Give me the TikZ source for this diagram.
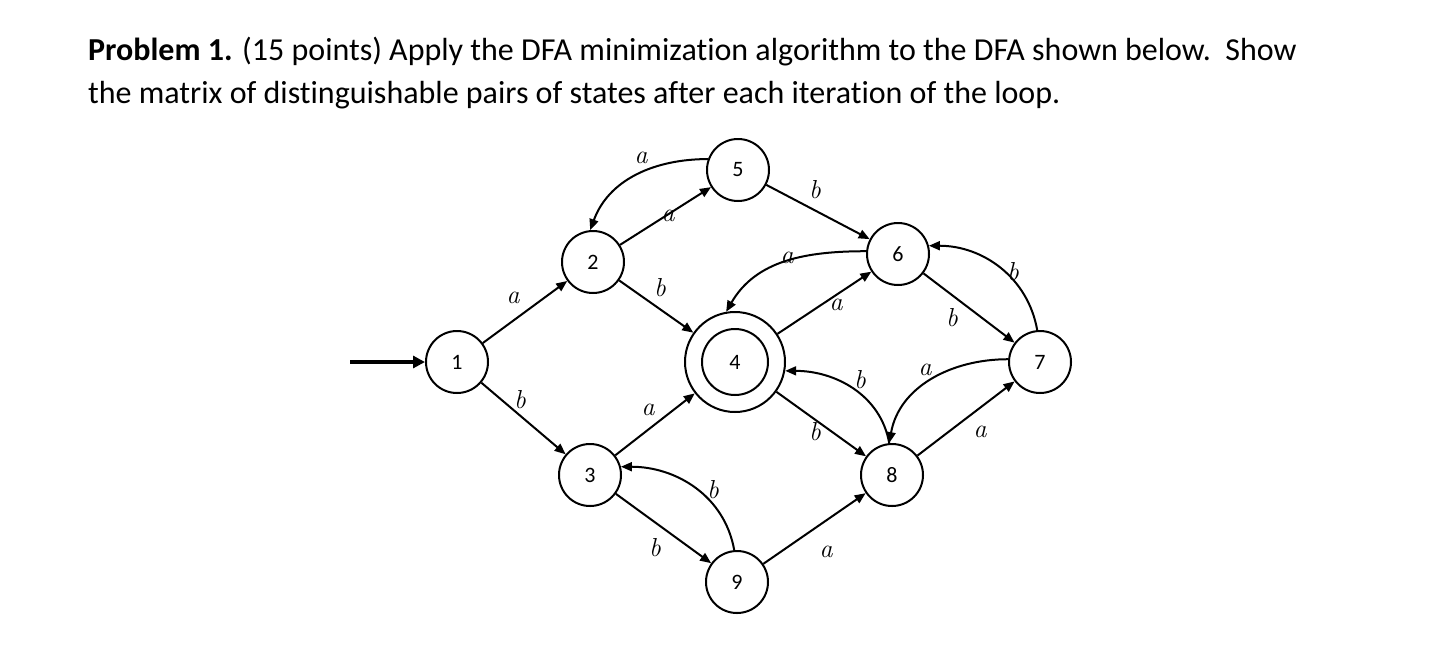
\documentclass[tikz,border=0pt]{standalone}
\usepackage{fontspec}
\setsansfont[Ligatures=NoCommon]{Carlito}
\usetikzlibrary{arrows.meta}
\begin{document}
\begin{tikzpicture}[x=1pt,y=-1pt,
 st/.style={circle,draw,line width=2pt,minimum size=62pt,inner sep=0pt,font=\sffamily\fontsize{22}{22}\selectfont},
 ed/.style={line width=2pt,-{Triangle[length=11pt,width=9pt]}},
 lb/.style={font=\itshape\fontsize{26}{26}\selectfont}]
\useasboundingbox (0,0) rectangle (1451,649);
\node[anchor=base west,inner sep=0pt,font=\sffamily\fontsize{32}{32}\selectfont] (t1) at (88,60) {\textbf{Problem 1.} (15 points) Apply the DFA minimization algorithm to the DFA shown below.\ \ Show};
\node[anchor=base west,inner sep=0pt,font=\sffamily\fontsize{32}{32}\selectfont] (t2) at (88,103) {the matrix of distinguishable pairs of states after each iteration of the loop.};
\node[st] (n1) at (457,362) {1};
\node[st] (n2) at (593,262) {2};
\node[st] (n3) at (590,475) {3};
\node[st,minimum size=100pt] (n4o) at (735,362) {};
\node[st,minimum size=66pt] (n4) at (735,362) {4};
\node[st] (n5) at (738,170) {5};
\node[st] (n6) at (898,254) {6};
\node[st] (n7) at (1040,362) {7};
\node[st] (n8) at (892,475) {8};
\node[st] (n9) at (737,582) {9};
\coordinate (s) at (350,362);
\draw[line width=4.5pt,-{Triangle[length=12pt,width=12pt]}] (s) -- (n1);
\draw[ed] (n1) -- (n2);
\draw[ed] (n1) -- (n3);
\draw[ed] (n2) -- (n5);
\draw[ed] (n5.160) to[out=180,in=70] (n2.95);
\draw[ed] (n2) -- (n4o);
\draw[ed] (n3) -- (n4o);
\draw[ed] (n3) -- (n9);
\draw[ed] (n9.95) to[out=100,in=0] (n3.15);
\draw[ed] (n5) -- (n6);
\draw[ed] (n4o) -- (n6);
\draw[ed] (n6.175) to[out=180,in=60] (n4o.100);
\draw[ed] (n6) -- (n7);
\draw[ed] (n7.95) to[out=100,in=0] (n6.15);
\draw[ed] (n4o) -- (n8);
\draw[ed] (n8.95) to[out=100,in=0] (n4o.350);
\draw[ed] (n8) -- (n7);
\draw[ed] (n7.175) to[out=180,in=80] (n8.95);
\draw[ed] (n9) -- (n8);
\node[lb] (l1) at (513,298) {a};
\node[lb] (l2) at (520,400) {b};
\node[lb] (l3) at (668,216) {a};
\node[lb] (l4) at (641,158) {a};
\node[lb] (l5) at (660,288) {b};
\node[lb] (l6) at (648,410) {a};
\node[lb] (l7) at (655,548) {b};
\node[lb] (l8) at (713,490) {b};
\node[lb] (l9) at (815,190) {b};
\node[lb] (l10) at (836,305) {a};
\node[lb] (l11) at (787,258) {a};
\node[lb] (l12) at (952,318) {b};
\node[lb] (l13) at (1013,272) {b};
\node[lb] (l14) at (815,432) {b};
\node[lb] (l15) at (860,380) {b};
\node[lb] (l16) at (980,432) {a};
\node[lb] (l17) at (925,370) {a};
\node[lb] (l18) at (826,552) {a};
\end{tikzpicture}
\end{document}
